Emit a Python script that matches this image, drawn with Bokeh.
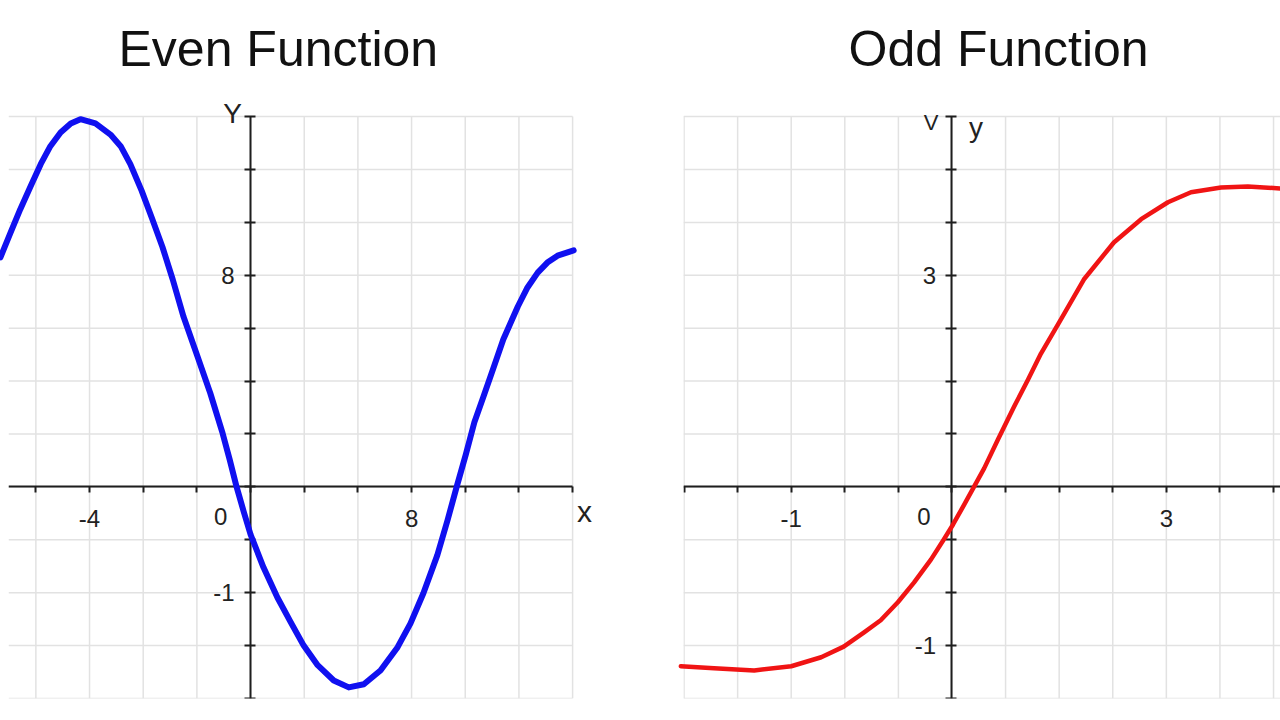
from bokeh.plotting import figure
from bokeh.models import LinearAxis, FixedTicker, Range1d, Label, Title
from bokeh.layouts import row
from bokeh.embed import file_html
from bokeh.resources import INLINE

# ---------------- data (grid units) ----------------
even_x = [-4.66, -4.47, -4.29, -4.10, -3.91, -3.73, -3.54, -3.35, -3.17, -2.89,
          -2.61, -2.42, -2.24, -2.03, -1.83, -1.64, -1.45, -1.25, -0.99, -0.75,
          -0.52, -0.39, -0.26, -0.13, 0.00, 0.24, 0.50, 0.75, 0.99, 1.25,
          1.55, 1.83, 2.11, 2.42, 2.74, 2.98, 3.22, 3.48, 3.67, 3.84,
          4.01, 4.17, 4.34, 4.53, 4.71, 4.98, 5.16, 5.35, 5.53, 5.72, 6.02]
even_y = [4.34, 4.81, 5.25, 5.68, 6.10, 6.44, 6.70, 6.87, 6.95, 6.87,
          6.66, 6.44, 6.10, 5.60, 5.06, 4.53, 3.92, 3.22, 2.47, 1.77,
          1.01, 0.52, 0.00, -0.46, -0.90, -1.52, -2.09, -2.56, -3.00, -3.37,
          -3.66, -3.79, -3.73, -3.47, -3.03, -2.58, -2.01, -1.29, -0.63, 0.00,
          0.61, 1.22, 1.71, 2.26, 2.79, 3.41, 3.77, 4.05, 4.24, 4.37, 4.47]

odd_x = [-5.06, -4.44, -3.69, -3.00, -2.44, -2.02, -1.64, -1.33, -1.01, -0.71,
         -0.39, -0.15, 0.02, 0.22, 0.41, 0.60, 0.86, 1.16, 1.42, 1.66,
         2.03, 2.46, 3.02, 3.53, 4.03, 4.46, 5.02, 5.52, 6.14]
odd_y = [-3.39, -3.43, -3.47, -3.39, -3.22, -3.02, -2.75, -2.52, -2.18, -1.81,
         -1.37, -0.99, -0.71, -0.35, 0.00, 0.35, 0.90, 1.52, 2.03, 2.52,
         3.16, 3.92, 4.62, 5.06, 5.38, 5.57, 5.66, 5.68, 5.64]

grid_ticks = list(range(-6, 9))

even_xtick_labels = {-3: "-4", 3: "8"}
even_ytick_labels = {4: "8", -2: "-1"}
odd_xtick_labels = {-3: "-1", 4: "3"}
odd_ytick_labels = {4: "3", -3: "-1"}

FONT = "Liberation Sans"
Y_LO, Y_HI, Y_TOP = -4, 7, 7.455
GRID_COLOR = "#e2e2e2"


def draw_grid(p, x0, x1):
    vx = [t for t in grid_ticks if x0 <= t <= x1]
    hy = [t for t in grid_ticks if Y_LO <= t <= Y_HI]
    p.segment(x0=vx, y0=[Y_LO] * len(vx), x1=vx, y1=[Y_HI] * len(vx),
              line_color=GRID_COLOR, line_width=1.5, level="underlay")
    p.segment(x0=[x0] * len(hy), y0=hy, x1=[x1] * len(hy), y1=hy,
              line_color=GRID_COLOR, line_width=1.5, level="underlay")


def make_panel(title, title_offset, xr, x_end, frame_w, bl, br, xs, ys, color,
               lw, xlabels, ylabels, zero_dx, extra_labels):
    p = figure(frame_width=frame_w, frame_height=606,
               x_range=Range1d(*xr), y_range=Range1d(Y_LO, Y_TOP),
               x_axis_location=None, y_axis_location=None,
               toolbar_location=None, output_backend="svg",
               min_border_left=bl, min_border_right=br,
               min_border_top=92, min_border_bottom=6)
    p.outline_line_color = None
    p.background_fill_color = "white"
    p.border_fill_color = "white"
    p.xgrid.visible = False
    p.ygrid.visible = False

    draw_grid(p, xr[0], x_end)

    ticker = FixedTicker(ticks=grid_ticks)
    common = dict(fixed_location=0, ticker=ticker,
                  axis_line_color="#1e1e1e", axis_line_width=2,
                  major_tick_line_color="#1e1e1e", major_tick_line_width=2,
                  minor_tick_line_color=None,
                  major_label_text_font=FONT,
                  major_label_text_font_size="24px",
                  major_label_text_color="#222222")
    xaxis = LinearAxis(major_tick_in=0, major_tick_out=6,
                       major_label_standoff=17, bounds=(xr[0], x_end),
                       major_label_overrides={t: xlabels.get(t, "") for t in grid_ticks},
                       **common)
    yaxis = LinearAxis(major_tick_in=5, major_tick_out=6,
                       major_label_standoff=10, bounds=(Y_LO, Y_HI),
                       major_label_overrides={t: ylabels.get(t, "") for t in grid_ticks},
                       **common)
    p.add_layout(xaxis, "below")
    p.add_layout(yaxis, "left")

    p.line(xs, ys, line_color=color, line_width=lw,
           line_cap="round", line_join="round", level="overlay")

    p.add_layout(Label(x=0, y=0, text="0", x_offset=zero_dx, y_offset=-30,
                       text_align="center", text_baseline="middle",
                       text_font=FONT, text_font_size="24px",
                       text_color="#222222"))
    for (lx, ly, txt, dx, dy, fs) in extra_labels:
        p.add_layout(Label(x=lx, y=ly, text=txt, x_offset=dx, y_offset=dy,
                           text_align="center", text_baseline="middle",
                           text_font=FONT, text_font_size=fs,
                           text_color="#222222"))

    p.add_layout(Title(text=title, align="left", offset=title_offset,
                       text_font=FONT, text_font_size="50px",
                       text_font_style="normal", text_color="#111111",
                       standoff=32), "above")
    return p


p1 = make_panel("Even Function", 110, (-4.51, 6.52), 6, 592, 8, 55,
                even_x, even_y, "#1010f0", 6,
                even_xtick_labels, even_ytick_labels, -30,
                [(0, Y_HI, "Y", -18, 3, "28px"),
                 (6, 0, "x", 12, -25, "30px")])

p2 = make_panel("Odd Function", 165, (-5.01, 6.13), 6.13, 597, 28, 0,
                odd_x, odd_y, "#f01414", 4.5,
                odd_xtick_labels, odd_ytick_labels, -28,
                [(0, Y_HI, "V", -21, -6, "22px"),
                 (0, Y_HI, "y", 24, -11, "28px")])

layout = row(p1, p2)
open("out.html", "w").write(file_html(layout, INLINE))
